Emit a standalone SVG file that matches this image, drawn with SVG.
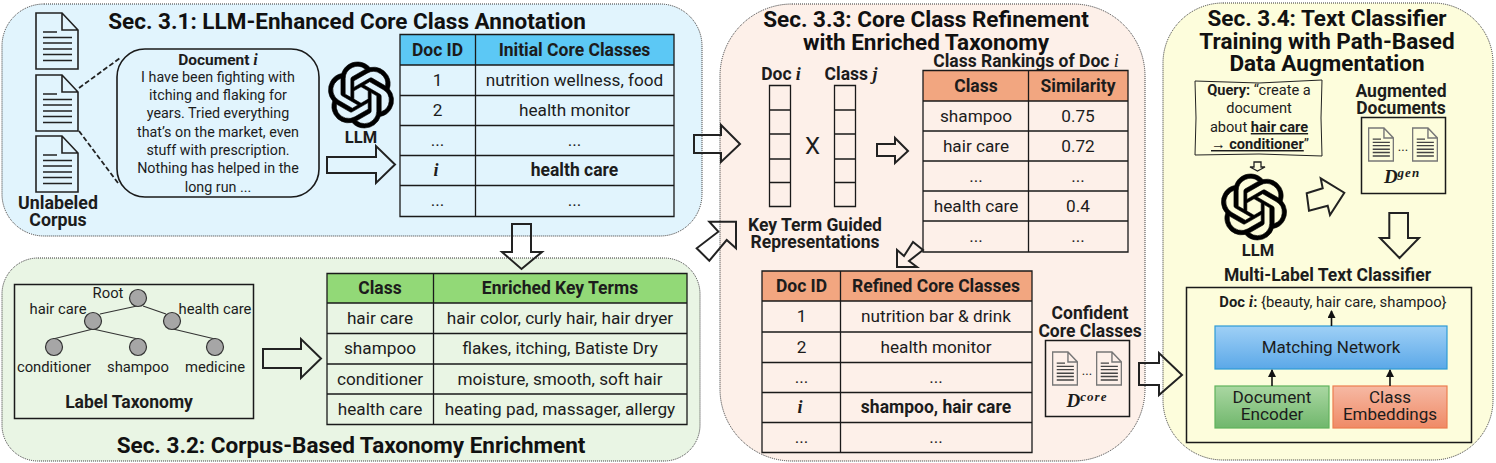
<svg xmlns="http://www.w3.org/2000/svg" xmlns:xlink="http://www.w3.org/1999/xlink" width="1496" height="463" viewBox="0 0 1496 463">
<style>
text{font-family:Roboto,"Liberation Sans",sans-serif;fill:#1c1c1c;text-anchor:middle}
.b{font-weight:700}
.t{font-size:22.500px;font-weight:700;fill:#111}
.s{font-size:17.200px}
.h{font-size:17.500px;font-weight:700}
.d{font-size:14.300px}
.lb{font-size:17.500px;font-weight:700}
.tx{font-size:14.800px}
.m{font-family:"Liberation Serif","DejaVu Serif",serif;font-style:italic;font-weight:700}
.panel{stroke:#333;stroke-width:1;stroke-dasharray:1 1}
.grid{fill:none;stroke:#1a1a1a;stroke-width:1.3}
.box{fill:none;stroke:#1a1a1a;stroke-width:1.5}
.arrow{fill:none;stroke:#222;stroke-width:2;stroke-linejoin:miter}
.edge{stroke:#333;stroke-width:1.2;fill:none}
.leaf{fill:#a6a6a6;stroke:#333;stroke-width:1.2}
.tip{stroke:#111;stroke-width:1.6;fill:none;marker-end:url(#tip)}
</style>
<defs>
<marker id="tip" viewBox="0 0 8 8" refX="7" refY="4" markerWidth="8" markerHeight="8" orient="auto" markerUnits="userSpaceOnUse"><path d="M0 0L8 4L0 8Z" fill="#111"/></marker>
<linearGradient id="gb" x1="0" y1="0" x2="0" y2="1"><stop offset="0" stop-color="#9fd0f6"/><stop offset="1" stop-color="#5ba8e8"/></linearGradient>
<linearGradient id="gg" x1="0" y1="0" x2="0" y2="1"><stop offset="0" stop-color="#aad7a2"/><stop offset="1" stop-color="#70b76c"/></linearGradient>
<linearGradient id="go" x1="0" y1="0" x2="0" y2="1"><stop offset="0" stop-color="#f6b9a4"/><stop offset="1" stop-color="#ef8a66"/></linearGradient>
<symbol id="page" viewBox="0 0 44 58">
<path d="M1 1H27L43 18V57H1Z M27 1V18H43" fill="none" stroke="#222" stroke-width="1.600"/>
<path d="M8 20H22M8 25.500H37M8 31H37M8 37H37M8 42.500H37M8 48.500H37" fill="none" stroke="#222" stroke-width="1.500"/>
</symbol>
<symbol id="gpage" viewBox="0 0 44 58">
<path d="M1 1H27L43 18V57H1Z M27 1V18H43" fill="none" stroke="#777" stroke-width="2.400"/>
<path d="M8 20H22M8 25.500H37M8 31H37M8 37H37M8 42.500H37M8 48.500H37" fill="none" stroke="#444" stroke-width="2.200"/>
</symbol>
<symbol id="knot" viewBox="0 0 24 24" overflow="visible">
<path fill="#000" stroke="#000" stroke-width=".22" d="M22.2819 9.8211a5.9847 5.9847 0 0 0-.5157-4.9108 6.0462 6.0462 0 0 0-6.5098-2.9A6.0651 6.0651 0 0 0 4.9807 4.1818a5.9847 5.9847 0 0 0-3.9977 2.9 6.0462 6.0462 0 0 0 .7427 7.0966 5.98 5.98 0 0 0 .511 4.9107 6.051 6.051 0 0 0 6.5146 2.9001A5.9847 5.9847 0 0 0 13.2599 24a6.0557 6.0557 0 0 0 5.7718-4.2058 5.9894 5.9894 0 0 0 3.9977-2.9001 6.0557 6.0557 0 0 0-.7475-7.0729zm-9.022 12.6081a4.4755 4.4755 0 0 1-2.8764-1.0408l.1419-.0804 4.7783-2.7582a.7948.7948 0 0 0 .3927-.6813v-6.7369l2.02 1.1686a.071.071 0 0 1 .038.052v5.5826a4.504 4.504 0 0 1-4.4945 4.4944zm-9.6607-4.1254a4.4708 4.4708 0 0 1-.5346-3.0137l.142.0852 4.783 2.7582a.7712.7712 0 0 0 .7806 0l5.8428-3.3685v2.3324a.0804.0804 0 0 1-.0332.0615L9.74 19.9502a4.4992 4.4992 0 0 1-6.1408-1.6464zM2.3408 7.8956a4.485 4.485 0 0 1 2.3655-1.9728V11.6a.7664.7664 0 0 0 .3879.6765l5.8144 3.3543-2.0201 1.1685a.0757.0757 0 0 1-.071 0l-4.8303-2.7865A4.504 4.504 0 0 1 2.3408 7.872zm16.5963 3.8558L13.1038 8.364 15.1192 7.2a.0757.0757 0 0 1 .071 0l4.8303 2.7913a4.4944 4.4944 0 0 1-.6765 8.1042v-5.6772a.79.79 0 0 0-.407-.667zm2.0107-3.0231l-.142-.0852-4.7735-2.7818a.7759.7759 0 0 0-.7854 0L9.409 9.2297V6.8974a.0662.0662 0 0 1 .0284-.0615l4.8303-2.7866a4.4992 4.4992 0 0 1 6.6802 4.66zM8.3065 12.863l-2.02-1.1638a.0804.0804 0 0 1-.038-.0567V6.0742a4.4992 4.4992 0 0 1 7.3757-3.4537l-.142.0805L8.704 5.459a.7948.7948 0 0 0-.3927.6813zm1.0976-2.3654l2.602-1.4998 2.6069 1.4998v2.9994l-2.5974 1.4997-2.6067-1.4997Z"/>
</symbol>
</defs>
<rect width="1496" height="463" fill="#fff"/>

<g id="panels">
<rect id="panel-31" class="panel" x="2" y="4" width="700" height="232" rx="42" fill="#e1f4fd"/>
<rect id="panel-32" class="panel" x="2" y="258" width="698" height="203" rx="36" fill="#e9f5e4"/>
<rect id="panel-33" class="panel" x="720" y="4" width="425" height="457" rx="72" fill="#fdf0e9"/>
<rect id="panel-34" class="panel" x="1163" y="3" width="330" height="457" rx="60" fill="#fdfddc"/>
</g>

<g id="titles">
<text class="t" x="347" y="28.500">Sec. 3.1: LLM-Enhanced Core Class Annotation</text>
<text class="t" x="351" y="453">Sec. 3.2: Corpus-Based Taxonomy Enrichment</text>
<text class="t"><tspan x="926" y="27">Sec. 3.3: Core Class Refinement</tspan><tspan x="926" y="50">with Enriched Taxonomy</tspan></text>
<text class="t"><tspan x="1327" y="26">Sec. 3.4: Text Classifier</tspan><tspan x="1327" y="49">Training with Path-Based</tspan><tspan x="1327" y="71">Data Augmentation</tspan></text>
</g>

<g id="corpus">
<use href="#page" x="35" y="12" width="44" height="58"/>
<use href="#page" x="35" y="74" width="44" height="58"/>
<use href="#page" x="35" y="135" width="44" height="58"/>
<text class="b" font-size="17.800"><tspan x="58" y="209">Unlabeled</tspan><tspan x="58" y="226">Corpus</tspan></text>
</g>

<g id="document-i">
<rect x="117" y="49" width="202" height="148" rx="28" fill="#e1f4fd" stroke="#1a1a1a" stroke-width="1.600"/>
<text class="b" font-size="15.500" x="218" y="64.500">Document <tspan class="m" font-size="16">i</tspan></text>
<text class="d" x="218" y="82">I have been fighting with</text>
<text class="d" x="218" y="100">itching and flaking for</text>
<text class="d" x="218" y="118">years. Tried everything</text>
<text class="d" x="218" y="136.500">that’s on the market, even</text>
<text class="d" x="218" y="155">stuff with prescription.</text>
<text class="d" x="218" y="173">Nothing has helped in the</text>
<text class="d" x="218" y="192">long run ...</text>
</g>

<g id="llm-1">
<use href="#knot" x="328" y="62" width="66" height="66"/>
<text class="b" font-size="16.500" x="361" y="143">LLM</text>
</g>

<g id="table-initial">
<rect x="400" y="35" width="274" height="30" fill="#5cc8f5"/>
<path class="grid" d="M400 34.500H674V216.500H400ZM400 65H674M400 95.500H674M400 125.500H674M400 155.500H674M400 185.500H674M475.500 34.500V216.500"/>
<text class="h" x="437.500" y="56">Doc ID</text><text class="h" x="574.500" y="56">Initial Core Classes</text>
<text class="s" x="437.500" y="86">1</text><text class="s" x="574.500" y="86">nutrition wellness, food</text>
<text class="s" x="437.500" y="116">2</text><text class="s" x="574.500" y="116">health monitor</text>
<text class="s" x="437.500" y="146">...</text><text class="s" x="574.500" y="146">...</text>
<text class="m" font-size="18" x="436" y="176">i</text><text class="h" x="574.500" y="176">health care</text>
<text class="s" x="437.500" y="206">...</text><text class="s" x="574.500" y="206">...</text>
</g>

<g id="taxonomy">
<rect x="14.500" y="284.500" width="239" height="134" class="box" stroke-width="1.800"/>
<path class="edge" d="M137 306L100 314M143 306L166 314M93 329L53 339M93 329L138 339M173 329L215 339"/>
<circle class="leaf" cx="138" cy="298" r="8.500"/>
<circle class="leaf" cx="93" cy="321" r="8.500"/>
<circle class="leaf" cx="172" cy="321" r="8.500"/>
<circle class="leaf" cx="54" cy="347" r="8.500"/>
<circle class="leaf" cx="138" cy="347" r="8.500"/>
<circle class="leaf" cx="215" cy="347" r="8.500"/>
<text class="tx" x="108" y="298">Root</text>
<text class="tx" x="58" y="314">hair care</text>
<text class="tx" x="215" y="314">health care</text>
<text class="tx" x="54" y="372">conditioner</text>
<text class="tx" x="138" y="372">shampoo</text>
<text class="tx" x="215" y="372">medicine</text>
<text class="lb" x="129" y="408">Label Taxonomy</text>
</g>

<g id="table-enriched">
<rect x="327" y="274" width="360" height="29" fill="#92d977"/>
<path class="grid" d="M327 273.500H687V424.500H327ZM327 303H687M327 333.500H687M327 364H687M327 394H687M433.500 273.500V424.500"/>
<text class="h" x="380" y="294">Class</text><text class="h" x="560" y="294">Enriched Key Terms</text>
<text class="s" x="380" y="324">hair care</text><text class="s" x="560" y="324">hair color, curly hair, hair dryer</text>
<text class="s" x="380" y="354">shampoo</text><text class="s" x="560" y="354">flakes, itching, Batiste Dry</text>
<text class="s" x="380" y="385">conditioner</text><text class="s" x="560" y="385">moisture, smooth, soft hair</text>
<text class="s" x="380" y="415">health care</text><text class="s" x="560" y="415">heating pad, massager, allergy</text>
</g>

<g id="vectors">
<text class="lb" x="781" y="80">Doc <tspan class="m" font-size="18">i</tspan></text>
<text class="lb" x="851" y="80">Class <tspan class="m" font-size="18">j</tspan></text>
<path class="grid" d="M769.500 85.500H790.500V206.500H769.500ZM769.500 110H790.500M769.500 134H790.500M769.500 159H790.500M769.500 182.500H790.500"/>
<path class="grid" d="M834.500 85.500H855.500V206.500H834.500ZM834.500 110H855.500M834.500 134H855.500M834.500 159H855.500M834.500 182.500H855.500"/>
<text font-size="24" x="812.500" y="153.500">X</text>
<text class="lb"><tspan x="815" y="231">Key Term Guided</tspan><tspan x="815" y="248">Representations</tspan></text>
</g>

<g id="table-rankings">
<text class="lb" x="1026" y="67">Class Rankings of Doc <tspan font-family="Liberation Serif" font-style="italic" font-weight="400" font-size="18">i</tspan></text>
<rect x="923" y="71" width="205" height="30" fill="#f2a680"/>
<path class="grid" d="M923 70.500H1128V252H923ZM923 101H1128M923 131H1128M923 161H1128M923 191H1128M923 221H1128M1028.500 70.500V252"/>
<text class="h" x="976" y="92">Class</text><text class="h" x="1078" y="92">Similarity</text>
<text class="s" x="976" y="122">shampoo</text><text class="s" x="1078" y="122">0.75</text>
<text class="s" x="976" y="152">hair care</text><text class="s" x="1078" y="152">0.72</text>
<text class="s" x="976" y="182">...</text><text class="s" x="1078" y="182">...</text>
<text class="s" x="976" y="212">health care</text><text class="s" x="1078" y="212">0.4</text>
<text class="s" x="976" y="242">...</text><text class="s" x="1078" y="242">...</text>
</g>

<g id="table-refined">
<rect x="762" y="271" width="270" height="30" fill="#f2a680"/>
<path class="grid" d="M762 271H1032V452.500H762ZM762 301H1032M762 332H1032M762 362.500H1032M762 392.500H1032M762 422.500H1032M840.500 271V452.500"/>
<text class="h" x="801.500" y="292">Doc ID</text><text class="h" x="936" y="292">Refined Core Classes</text>
<text class="s" x="801.500" y="322">1</text><text class="s" x="936" y="322">nutrition bar &amp; drink</text>
<text class="s" x="801.500" y="353">2</text><text class="s" x="936" y="353">health monitor</text>
<text class="s" x="801.500" y="383">...</text><text class="s" x="936" y="383">...</text>
<text class="m" font-size="18" x="800" y="413">i</text><text class="h" x="936" y="413">shampoo, hair care</text>
<text class="s" x="801.500" y="443">...</text><text class="s" x="936" y="443">...</text>
</g>

<g id="confident">
<text class="lb"><tspan x="1090" y="319">Confident</tspan><tspan x="1090" y="337">Core Classes</tspan></text>
<rect class="box" x="1045.500" y="340.500" width="84" height="76" stroke-width="1.300"/>
<use href="#gpage" x="1052" y="351" width="26" height="35"/>
<use href="#gpage" x="1096" y="351" width="26" height="35"/>
<text font-size="13" x="1087" y="375">...</text>
<text class="m" font-size="19" x="1087" y="407">D<tspan font-size="13" dy="-6" letter-spacing="1">core</tspan></text>
</g>

<g id="query">
<path d="M1195 81L1259 83L1322 80L1321 118L1322 156L1259 154L1195 155L1196 118Z" fill="#fdfddc" stroke="#222" stroke-width="1"/>
<text font-size="14.600" x="1259" y="95"><tspan class="b">Query:</tspan> “create a</text>
<text font-size="14.600" x="1259" y="113">document</text>
<text font-size="14.600" x="1259" y="132">about <tspan class="b" text-decoration="underline">hair care</tspan></text>
<text font-size="14.600" x="1260" y="149"><tspan class="b" text-decoration="underline">→ conditioner</tspan>”</text>
</g>

<g id="llm-2">
<use href="#knot" x="1221" y="174" width="66" height="66"/>
<text class="b" font-size="16.500" x="1258" y="256">LLM</text>
</g>

<g id="augmented">
<text class="lb"><tspan x="1401" y="97">Augmented</tspan><tspan x="1401" y="114">Documents</tspan></text>
<rect class="box" x="1361.500" y="117.500" width="84" height="76" stroke-width="1.300"/>
<use href="#gpage" x="1368" y="127" width="26" height="35"/>
<use href="#gpage" x="1412" y="127" width="26" height="35"/>
<text font-size="13" x="1403" y="151">...</text>
<text class="m" font-size="19" x="1402" y="183">D<tspan font-size="13" dy="-6" letter-spacing="1">gen</tspan></text>
</g>

<g id="classifier">
<text class="lb" x="1327.500" y="281">Multi-Label Text Classifier</text>
<rect class="box" x="1186.500" y="287.500" width="285" height="155" stroke-width="1.300"/>
<text font-size="14.800" x="1333" y="307"><tspan class="b">Doc </tspan><tspan class="m" font-size="16">i</tspan><tspan class="b">:</tspan> {beauty, hair care, shampoo}</text>
</g>
<g id="matching-network">
<rect x="1215" y="326" width="232" height="43" fill="url(#gb)" stroke="#2e9bd6" stroke-width="1.200"/>
<text font-size="17" x="1331" y="353">Matching Network</text>
</g>
<g id="document-encoder">
<rect x="1215" y="386" width="114" height="42" fill="url(#gg)" stroke="#5fb35c" stroke-width="1.200"/>
<text font-size="17.200"><tspan x="1272" y="403">Document</tspan><tspan x="1272" y="420">Encoder</tspan></text>
</g>
<g id="class-embeddings">
<rect x="1333" y="386" width="114" height="42" fill="url(#go)" stroke="#ed7d4f" stroke-width="1.200"/>
<text font-size="17"><tspan x="1390" y="403">Class</tspan><tspan x="1390" y="420">Embeddings</tspan></text>
</g>

<g id="connectors">
<path d="M79 88L120 58M79 131L118 183" fill="none" stroke="#222" stroke-width="1.800" stroke-dasharray="5 2.500"/>
<polygon class="arrow" points="327,157 376,157 376,146 395,164.500 376,183 376,173 327,173"/>
<polygon class="arrow" points="694,135 721,135 721,125 740,144 721,162 721,153 694,153"/>
<polygon class="arrow" points="512,224 531,224 531,252 542,252 521.500,269 502,252 512,252"/>
<polygon class="arrow" points="709.300,221.700 736,221.700 736,248.300 726.700,240 709.300,260.700 696.700,248.300 718.300,231.700"/>
<polygon class="arrow" points="263,349 301,349 301,339 321,358.500 301,378 301,368 263,368"/>
<polygon class="arrow" points="877,144 895,144 895,138 908,151 895,163 895,156 877,156"/>
<polygon class="arrow" points="897,267 897,250 904,256 913,242 923,250 909,261 917,267"/>
<polygon class="arrow" points="1139,363 1159,363 1159,353 1182,375 1159,395 1159,385 1139,385"/>
<polygon class="arrow" points="1254,162 1261,162 1261,167 1265,167 1257.500,171 1250,167 1254,167" style="stroke-width:1.300"/>
<polygon class="arrow" points="1306.700,193.300 1322.700,188.300 1320.700,178.300 1344.300,192.700 1330,215 1327.700,205.700 1309,210.700"/>
<polygon class="arrow" points="1389.300,213 1408,213 1408,238 1419,238 1399.500,258 1380,238 1389.300,238"/>
<path class="tip" d="M1331.500 326V311"/>
<path class="tip" d="M1272 386V370"/>
<path class="tip" d="M1390 386V370"/>
</g>
</svg>
